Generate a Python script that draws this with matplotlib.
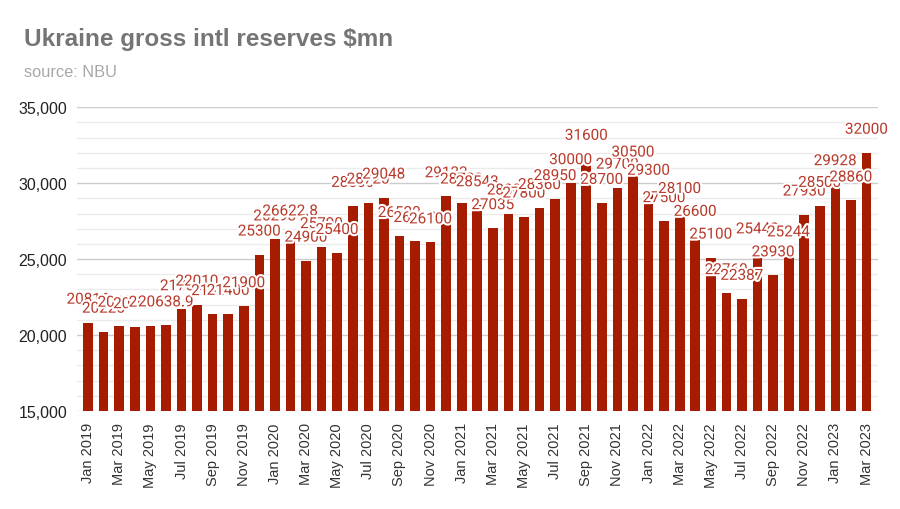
import matplotlib.pyplot as plt
import matplotlib.patheffects as pe
import numpy as np

# monthly NBU gross international reserves, $mn (Jan 2019 - Mar 2023)
months = [
    "Jan 2019", "Feb 2019", "Mar 2019", "Apr 2019", "May 2019", "Jun 2019",
    "Jul 2019", "Aug 2019", "Sep 2019", "Oct 2019", "Nov 2019", "Dec 2019",
    "Jan 2020", "Feb 2020", "Mar 2020", "Apr 2020", "May 2020", "Jun 2020",
    "Jul 2020", "Aug 2020", "Sep 2020", "Oct 2020", "Nov 2020", "Dec 2020",
    "Jan 2021", "Feb 2021", "Mar 2021", "Apr 2021", "May 2021", "Jun 2021",
    "Jul 2021", "Aug 2021", "Sep 2021", "Oct 2021", "Nov 2021", "Dec 2021",
    "Jan 2022", "Feb 2022", "Mar 2022", "Apr 2022", "May 2022", "Jun 2022",
    "Jul 2022", "Aug 2022", "Sep 2022", "Oct 2022", "Nov 2022", "Dec 2022",
    "Jan 2023", "Feb 2023", "Mar 2023",
]
reserves = [
    20816, 20225, 20620, 20520, 20620, 20638.9,
    21700, 22010, 21380, 21400, 21900, 25300,
    26293, 26622.8, 24900, 25790, 25400, 28500,
    28720, 29048, 26520, 26190, 26100, 29133,
    28720, 28543, 27035, 28000, 27800, 28360,
    28950, 30000, 31600, 28700, 29700, 30500,
    29300, 27500, 28100, 26600, 25100, 22760,
    22387, 25442, 23930, 25244, 27930, 28500,
    29928, 28860, 32000,
]
y_ticks = [15000, 20000, 25000, 30000, 35000]

bar_color = "#a61c00"
label_color = "#b8392a"

fig = plt.figure(figsize=(9, 5.1), dpi=100)
ax = fig.add_axes([0.0856, 0.192, 0.89, 0.596])

x = np.arange(len(months))
ax.bar(x, np.array(reserves) - 15000, bottom=15000, width=0.62,
       color=bar_color, zorder=2)

# value labels with a white halo, drawn over the bars like the sheets chart
for xi, v in zip(x, reserves):
    ax.annotate(f"{v:g}", (xi, v), xytext=(0, 23), textcoords="offset pixels",
                ha="center", va="center", fontsize=11, family="Roboto",
                color=label_color, zorder=3,
                path_effects=[pe.withStroke(linewidth=3, foreground="white")])

ax.set_ylim(15000, 35000)
ax.set_xlim(-0.71, 50.74)
ax.set_yticks(y_ticks)
ax.set_yticklabels([f"{t:,}" for t in y_ticks])
ax.set_yticks(np.arange(15000, 35001, 1000), minor=True)
ax.grid(axis="y", which="major", color="#cccccc", linewidth=1, zorder=0)
ax.grid(axis="y", which="minor", color="#ebebeb", linewidth=1, zorder=0)
ax.set_axisbelow(True)

ax.set_xticks(x[::2])
ax.set_xticklabels(months[::2], rotation=90, family="Liberation Sans",
                   fontsize=10.5, color="#333333")
for lab in ax.get_yticklabels():
    lab.set_family("Liberation Sans")
    lab.set_fontsize(11.5)
    lab.set_color("#222222")
ax.tick_params(axis="both", which="both", length=0)
ax.tick_params(axis="x", pad=8)
ax.tick_params(axis="y", pad=7)
for s in ax.spines.values():
    s.set_visible(False)

fig.text(24 / 900, 1 - 40 / 510, "Ukraine gross intl reserves $mn",
         family="Liberation Sans", weight="bold", fontsize=17.5,
         color="#757575", va="center")
fig.text(24 / 900, 1 - 73 / 510, "source: NBU", family="Liberation Sans",
         fontsize=11.8, color="#a8a8a8", va="center")

fig.savefig("out.png", dpi=100)
